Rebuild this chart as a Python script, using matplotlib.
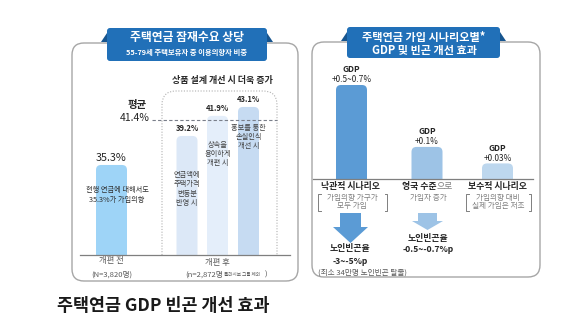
import numpy as np
import matplotlib.pyplot as plt
from matplotlib.patches import FancyBboxPatch, Polygon, PathPatch
from matplotlib.path import Path
from matplotlib.transforms import IdentityTransform

plt.rcParams['font.family'] = ['Noto Sans CJK KR', 'DejaVu Sans']

W, H = 585, 321

# Left panel: share of homeowners aged 55-79 intending to join (%)
intent_values = [35.3, 39.2, 41.9, 43.1]
intent_average = 41.4
intent_bar_text = [
    '현행 연금에 대해서도\n35.3%가 가입의향',
    '연금액에\n주택가격\n변동분\n반영 시',
    '상속을\n용이하게\n개편 시',
    '홍보를 통한\n손실인식\n개선 시',
]

# Right panel: GDP effect by take-up scenario (%), poverty-rate effect
scenario_titles = ['낙관적 시나리오', '영국 수준으로', '보수적 시나리오']
scenario_notes = ['가입의향 가구가\n모두 가입', '가입자 증가', '가입의향 대비\n실제 가입은 저조']
gdp_effect = [0.6, 0.1, 0.03]
gdp_labels = ['+0.5~0.7%', '+0.1%', '+0.03%']
poverty_labels = ['-3~-5%p', '-0.5~-0.7%p']

BANNER = '#2170b8'
BANNER_DARK = '#17558f'
OUTLINE = '#a6a6a6'
DARK = '#262626'
GREY = '#595959'

fig = plt.figure(figsize=(W / 100, H / 100), dpi=100)


def overlay(z):
    ax = fig.add_axes([0, 0, 1, 1], zorder=z)
    ax.set_xlim(0, W)
    ax.set_ylim(H, 0)
    ax.axis('off')
    ax.patch.set_alpha(0)
    return ax


def px_axes(x0, x1, ytop, ybot, z):
    ax = fig.add_axes([x0 / W, 1 - ybot / H, (x1 - x0) / W, (ybot - ytop) / H], zorder=z)
    ax.axis('off')
    ax.patch.set_alpha(0)
    ax.set_xlim(x0, x1)
    return ax


def round_bars(ax, bars, r):
    # replace square bar tops with rounded ones of radius r pixels
    for b in bars:
        (x0, y0), (x1, y1) = ax.transData.transform([(b.get_x(), b.get_y()),
                                                     (b.get_x() + b.get_width(), b.get_y() + b.get_height())])
        lo = ax.transData.transform((0, ax.get_ylim()[0]))[1] - 2 * r
        y0 = max(min(y0, y1), lo) if min(y0, y1) < lo else min(y0, y1) - r
        p = FancyBboxPatch((x0, y0), x1 - x0, y1 - y0,
                           boxstyle=f'round,pad=0,rounding_size={r}',
                           fc=b.get_facecolor(), ec='none', transform=IdentityTransform())
        ax.add_patch(p)
        b.set_visible(False)


bg = overlay(0)
fg = overlay(10)

# panel outlines
for (x0, y0, x1, y1) in [(72, 43, 298, 281), (312, 42, 540, 277)]:
    bg.add_patch(FancyBboxPatch((x0, y0), x1 - x0, y1 - y0,
                                boxstyle='round,pad=0,rounding_size=12',
                                fc='white', ec=OUTLINE, lw=1.0))

# header banners with folded tabs
for (x0, y0, x1, y1) in [(107, 28, 267, 61), (347, 27, 500, 58)]:
    bg.add_patch(Polygon([(x0, y0 + 5), (x0 - 6, y0 + 14), (x0, y0 + 14)], closed=True,
                         fc=BANNER_DARK, ec='none', zorder=3))
    bg.add_patch(Polygon([(x1, y0 + 5), (x1 + 6, y0 + 14), (x1, y0 + 14)], closed=True,
                         fc=BANNER_DARK, ec='none', zorder=3))
    bg.add_patch(FancyBboxPatch((x0, y0), x1 - x0, y1 - y0,
                                boxstyle='round,pad=0,rounding_size=3',
                                fc=BANNER, ec='none', zorder=4))

fg.text(187, 38, '주택연금 잠재수요 상당', color='white', fontsize=8.5,
        fontweight='bold', ha='center', va='center')
fg.text(187, 52.5, '55-79세 주택보유자 중 이용의향자 비중', color='white', fontsize=5.3,
        fontweight='bold', ha='center', va='center')
fg.text(424, 37, '주택연금 가입 시나리오별*', color='white', fontsize=8,
        fontweight='bold', ha='center', va='center')
fg.text(424, 50.5, 'GDP 및 빈곤 개선 효과', color='white', fontsize=8,
        fontweight='bold', ha='center', va='center')

# ---------------- left panel ----------------
fg.text(222, 80, '상품 설계 개선 시 더욱 증가', color=DARK, fontsize=6.5,
        fontweight='bold', ha='center', va='center')

# dotted rounded frame around the reformed-product bars
r = 14
xa, xb, yt, yb = 162, 277, 91, 255
verts = [(xa, yb), (xa, yt + r), (xa, yt), (xa + r, yt), (xb - r, yt), (xb, yt), (xb, yt + r), (xb, yb)]
codes = [Path.MOVETO, Path.LINETO, Path.CURVE3, Path.CURVE3, Path.LINETO, Path.CURVE3, Path.CURVE3, Path.LINETO]
bg.add_patch(PathPatch(Path(verts, codes), fc='none', ec='#b0b0b0', lw=0.8, ls=(0, (1, 1.5)), zorder=2))

axL = px_axes(80, 290, 91, 255, 5)
ppct = 7.44  # pixels per percentage point
axL.set_ylim(23.2, 23.2 + (255 - 91) / ppct)
left_x = [111.5, 187, 217.5, 248.5]
left_w = [31, 21, 21, 21]
left_colors = ['#9ed4f7', '#dce8f7', '#e4eefa', '#c6dbf2']
barsL = axL.bar(left_x, intent_values, width=left_w, color=left_colors, zorder=2)
round_bars(axL, barsL, 5)

for i, (x, v) in enumerate(zip(left_x, intent_values)):
    big = i == 0
    axL.annotate(f'{v:.1f}%', (x, v), xytext=(0, 5.3), textcoords='offset points',
                 ha='center', va='center', fontsize=7.8 if big else 5.5,
                 fontweight='medium' if big else 'bold', color=DARK, annotation_clip=False)

# average line
axL.plot([152, 277], [intent_average, intent_average], color='#7a7f8a', lw=0.8,
         ls=(0, (3, 2)), zorder=3, clip_on=False)
fg.text(137, 105, '평균', color=DARK, fontsize=7.5, fontweight='bold', ha='center', va='center')
fg.text(135, 118, f'{intent_average}%', color=DARK, fontsize=7.5, fontweight='medium',
        ha='center', va='center')

# text inside the bars
fg.text(117, 195, intent_bar_text[0], color='#303030', fontsize=5.2, ha='center', va='center',
        linespacing=1.25)
fg.text(187, 189, intent_bar_text[1], color='#404040', fontsize=5.2, ha='center', va='center',
        linespacing=1.2)
fg.text(217.5, 154, intent_bar_text[2], color='#404040', fontsize=5.2, ha='center', va='center',
        linespacing=1.2)
fg.text(248.5, 137, intent_bar_text[3], color='#404040', fontsize=5.2, ha='center', va='center',
        linespacing=1.2)

# baseline and group labels
fg.plot([80, 290], [255, 255], color='#7f7f7f', lw=0.9)
fg.text(111, 261, '개편 전', color=GREY, fontsize=6, ha='center', va='center')
fg.text(112, 275, '(N=3,820명)', color=GREY, fontsize=5.5, ha='center', va='center')
fg.text(217, 262, '개편 후', color=GREY, fontsize=6, ha='center', va='center')
fg.text(223, 275, '(n=2,872명', color=GREY, fontsize=5.5, ha='right', va='center')
fg.text(224, 275, '플라시보 그룹 제외', color=GREY, fontsize=3.3, ha='left', va='center')
fg.text(265, 275, ')', color=GREY, fontsize=5.5, ha='left', va='center')

# ---------------- right panel ----------------
axR = px_axes(313, 533, 60, 179, 5)
pw = 0.6
axR.set_yscale('function', functions=(lambda v: np.sign(v) * np.abs(v) ** pw,
                                      lambda t: np.sign(t) * np.abs(t) ** (1 / pw)))
axR.set_ylim(0, (0.6 ** pw * 119 / 94) ** (1 / pw))
right_x = [351.5, 427, 497.5]
right_colors = ['#5b9bd5', '#9dc3e6', '#bdd7ee']
barsR = axR.bar(right_x, gdp_effect, width=31, color=right_colors, zorder=2)
round_bars(axR, barsR, 5)
for x, v, lab in zip(right_x, gdp_effect, gdp_labels):
    axR.annotate(lab, (x, v), xytext=(0, 3.8), textcoords='offset points', ha='center',
                 va='center', fontsize=6, color=DARK, annotation_clip=False)
    axR.annotate('GDP', (x, v), xytext=(0, 11), textcoords='offset points', ha='center',
                 va='center', fontsize=6, fontweight='bold', color=DARK, annotation_clip=False)

fg.plot([313, 533], [179, 179], color='#7f7f7f', lw=0.9)

# scenario captions
fg.text(350, 187, scenario_titles[0], color=DARK, fontsize=6.4, fontweight='bold',
        ha='center', va='center')
fg.text(436, 187, scenario_titles[1][:5], color=DARK, fontsize=6.4, fontweight='bold',
        ha='right', va='center')
fg.text(436.5, 187, scenario_titles[1][5:], color='#7f7f7f', fontsize=6.4,
        ha='left', va='center')
fg.text(497, 187, scenario_titles[2], color=DARK, fontsize=6.4, fontweight='bold',
        ha='center', va='center')
fg.text(352, 202, scenario_notes[0], color='#7f7f7f', fontsize=5.5, ha='center', va='center',
        linespacing=1.15)
fg.text(428, 198, scenario_notes[1], color='#7f7f7f', fontsize=5.5, ha='center', va='center')
fg.text(498, 202, scenario_notes[2], color='#7f7f7f', fontsize=5.5, ha='center', va='center',
        linespacing=1.15)

# brackets around scenario notes
for xl, xr in [(318, 387), (466, 531)]:
    for x, d in [(xl, 2.5), (xr, -2.5)]:
        fg.plot([x + d, x, x, x + d], [194, 194, 211, 211], color='#7f7f7f', lw=0.7)

# downward arrows for poverty-rate effect
fg.add_patch(Polygon([(340, 213), (361, 213), (361, 227), (368, 227), (350.5, 243),
                      (333, 227), (340, 227)], closed=True, fc='#5b9bd5', ec='none'))
fg.add_patch(Polygon([(418, 213), (437, 213), (437, 221), (443, 221), (427.5, 230),
                      (412, 221), (418, 221)], closed=True, fc='#9dc3e6', ec='none'))

fg.text(350, 248, '노인빈곤율', color=DARK, fontsize=6.4, fontweight='bold', ha='center', va='center')
fg.text(350, 261, poverty_labels[0], color=DARK, fontsize=6.2, fontweight='bold', ha='center', va='center')
fg.text(428, 238, '노인빈곤율', color=DARK, fontsize=6.4, fontweight='bold', ha='center', va='center')
fg.text(428, 250, poverty_labels[1], color=DARK, fontsize=6.2, fontweight='bold', ha='center', va='center')
fg.text(363, 273, '(최소 34만명 노인빈곤 탈출)', color=GREY, fontsize=5.5, ha='center', va='center')

# figure caption
fg.text(57, 306, '주택연금 GDP 빈곤 개선 효과', color='#1a1a1a', fontsize=12.5,
        fontweight='bold', ha='left', va='center')

fig.savefig('out.png', dpi=100)
